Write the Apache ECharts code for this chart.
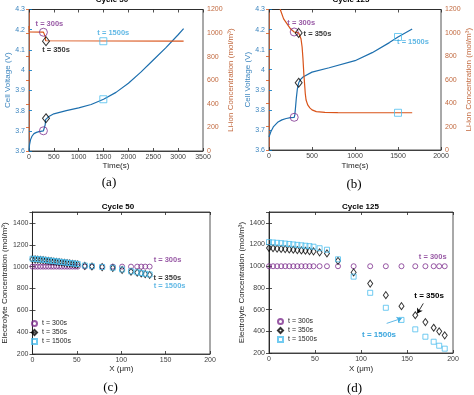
<!DOCTYPE html>
<html><head><meta charset="utf-8">
<script src="https://cdn.jsdelivr.net/npm/echarts@6/dist/echarts.min.js"></script>
<style>html,body{margin:0;padding:0;background:#fff}#c{width:474px;height:395px}</style>
</head><body><div id="c"></div>
<script>
// ---------- DATA ----------
// (a) Cycle 50 : [time s, value]
const aVoltage = [[0,3.600],[10,3.630],[30,3.655],[60,3.673],[100,3.686],[150,3.692],[200,3.696],[290,3.700],[318,3.704],[326,3.730],[334,3.755],[342,3.762],[400,3.771],[500,3.784],[750,3.800],[1000,3.813],[1250,3.830],[1500,3.856],[1750,3.890],[2000,3.935],[2250,3.990],[2500,4.050],[2750,4.110],[3000,4.175],[3110,4.205]];
const aConc = [[0,1060],[5,1010],[290,1008],[320,1005],[328,970],[334,935],[345,931],[3110,931]];
const aMarkTime = [290, 342, 1495];
const aMarkVolt = [3.700, 3.762, 3.856];
const aMarkConc = [1007, 931, 931];
// (b) Cycle 125
const bVoltage = [[0,3.665],[20,3.690],[50,3.715],[100,3.738],[150,3.750],[200,3.757],[250,3.761],[293,3.763],[300,3.775],[308,3.810],[318,3.860],[330,3.905],[345,3.935],[370,3.953],[400,3.965],[500,3.988],[700,4.010],[1000,4.045],[1200,4.085],[1400,4.135],[1500,4.163],[1665,4.203]];
const bConc = [[60,1600],[100,1330],[131,1200],[170,1120],[208,1080],[250,1035],[293,1008],[345,1000],[362,985],[372,950],[385,880],[395,780],[405,650],[413,572],[422,480],[431,427],[450,385],[475,360],[500,343],[550,328],[650,321],[800,319],[1665,318]];
const bMarkTime = [293, 345, 1500];
const bMarkVolt = [3.763, 3.935, 4.163];
const bMarkConc = [1008, 1000, 318];
const markNames = ['t = 300s', 't = 350s', 't = 1500s'];
// (c) Cycle 50 electrolyte concentration vs X (um)
const cX = [0,3,6,9,12,15,18,21,24,27,30,33,36,39,42,45,48,51,59,67,78.5,90.5,101,111,118,122.5,127,132];
const c300 = [1000,1000,1000,1000,1000,1000,1000,1000,1000,1000,1000,1000,1000,1000,1000,1000,1000,1000,1000,1000,1000,1000,1000,1000,1000,1000,1000,1000];
const c350 = [1068,1066,1064,1062,1059,1056,1053,1050,1047,1044,1041,1038,1035,1032,1029,1026,1023,1020,1007,1001,995,987,970,953,945,938,931,925];
const c1500 = [1072,1070,1068,1066,1063,1060,1057,1054,1051,1048,1045,1042,1039,1036,1033,1030,1027,1024,1010,1003,997,990,974,957,948,941,934,928];
// (d) Cycle 125
const dX = [0,4.4,8.8,13.2,17.6,22,26.4,30.8,35.2,39.6,44,48.4,55,63,75,92,110,127,144,159,170,179,185,191];
const d300 = [1000,1000,1000,1000,1000,1000,1000,1000,1000,1000,1000,1000,1000,1000,1000,1000,1000,1000,1000,1000,1000,1000,1000,1000];
const d350 = [1168,1166,1163,1160,1158,1155,1152,1149,1146,1143,1140,1137,1128,1118,1050,943,840,733,632,548,485,433,400,363];
const d1500 = [1222,1219,1216,1213,1209,1205,1201,1197,1193,1189,1185,1180,1166,1152,1064,904,755,617,505,418,350,304,267,240];
// annotation anchors (data coords) for panel (d)
const dNote350 = {at:[174,725], from:[167.7,657], to:[161.2,565]};
const dNote1500 = {at:[119.6,366], from:[127.9,473], to:[144.2,519]};

// ---------- STYLE ----------
const FONT = '"Liberation Sans", Arial, sans-serif';
const PURPLE = '#7E2F8E', LBLUE = '#4DBEEE', LBLUE_T = '#3AA6DE', BLUE = '#0072BD', ORANGE = '#D95319', DARK = '#262626', GREY = '#404040';
const sym = ['circle', 'diamond', 'rect'];
const symCol = [PURPLE, '#000000', LBLUE];
const txtCol = [PURPLE, '#000000', LBLUE_T];

const pair = (xs, ys) => xs.map((x, i) => [x, ys[i]]);
const plainFmt = v => String(Math.round(v * 1000) / 1000);
const voltFmt = v => String(Math.round(v * 10) / 10);
const concFmt = v => (v > 1450 ? '' : String(Math.round(v)));

function xAx(grid, min, max, interval, name, gap, opts = {}) {
  return Object.assign({
    type: 'value', gridIndex: grid, min, max, interval, position: 'bottom',
    axisLine: {show: true, lineStyle: {color: DARK, width: 0.8}},
    axisTick: {show: true, inside: true, length: 3, lineStyle: {color: DARK, width: 0.8}},
    axisLabel: {fontSize: 7, margin: 3, color: GREY, fontFamily: FONT, formatter: plainFmt},
    splitLine: {show: false},
    name, nameLocation: 'middle', nameGap: gap,
    nameTextStyle: {fontSize: 8, color: DARK, fontFamily: FONT}
  }, opts);
}
function yAx(grid, min, max, interval, name, gap, color, labelColor, pos, fmt, opts = {}) {
  return Object.assign({
    type: 'value', gridIndex: grid, min, max, interval, position: pos,
    axisLine: {show: true, lineStyle: {color, width: 0.8}},
    axisTick: {show: true, inside: true, length: 3, lineStyle: {color, width: 0.8}},
    axisLabel: {fontSize: 7, margin: 4, color: labelColor, fontFamily: FONT, formatter: fmt},
    splitLine: {show: false},
    name, nameLocation: 'middle', nameGap: gap,
    nameTextStyle: {fontSize: 8, color: labelColor, fontFamily: FONT}
  }, opts);
}
function mirrorX(grid, min, max, interval) {
  return {type: 'value', gridIndex: grid, min, max, interval, position: 'top',
    axisLine: {show: true, lineStyle: {color: DARK, width: 0.8}},
    axisTick: {show: true, inside: true, length: 3, lineStyle: {color: DARK, width: 0.8}},
    axisLabel: {show: false}, splitLine: {show: false}};
}
function mirrorY(grid, min, max, interval) {
  return {type: 'value', gridIndex: grid, min, max, interval, position: 'right',
    axisLine: {show: true, lineStyle: {color: DARK, width: 0.8}},
    axisTick: {show: true, inside: true, length: 3, lineStyle: {color: DARK, width: 0.8}},
    axisLabel: {show: false}, splitLine: {show: false}};
}

const grids = [
  {left: 29, top: 9.5, width: 174, height: 141.5},
  {left: 269, top: 9.5, width: 173, height: 140.5},
  {left: 29, top: 212, width: 181, height: 142},
  {left: 269, top: 212, width: 184, height: 141}
].map(g => Object.assign(g, {show: true, borderColor: DARK, borderWidth: 0.8, backgroundColor: 'transparent', containLabel: false}));

const xAxis = [
  xAx(0, 0, 3500, 500, 'Time(s)', 11),
  xAx(1, 0, 2000, 500, 'Time(s)', 12),
  xAx(2, 0, 200, 50, 'X (\u03bcm)', 10),
  xAx(3, 0, 200, 50, 'X (\u03bcm)', 12),
  mirrorX(0, 0, 3500, 500), mirrorX(1, 0, 2000, 500), mirrorX(2, 0, 200, 50), mirrorX(3, 0, 200, 50)
];
const yAxis = [
  yAx(0, 3.6, 4.3, 0.1, 'Cell Voltage (V)', 13, BLUE, '#3A84BE', 'left', voltFmt),
  yAx(0, 0, 1200, 200, 'Li-ion Concentration (mol/m\u00b3)', 23, ORANGE, '#C26A40', 'right', plainFmt),
  yAx(1, 3.6, 4.3, 0.1, 'Cell Voltage (V)', 13, BLUE, '#3A84BE', 'left', voltFmt),
  yAx(1, 0, 1200, 200, 'Li-ion Concentration (mol/m\u00b3)', 24, ORANGE, '#C26A40', 'right', plainFmt),
  yAx(2, 200, 1500, 200, 'Electrolyte Concentration (mol/m\u00b3)', 20, DARK, GREY, 'left', concFmt, {nameTextStyle: {fontSize: 8, color: DARK, fontFamily: FONT}}),
  yAx(3, 200, 1500, 200, 'Electrolyte Concentration (mol/m\u00b3)', 19.5, DARK, GREY, 'left', concFmt, {nameTextStyle: {fontSize: 8, color: DARK, fontFamily: FONT}}),
  mirrorY(2, 200, 1500, 200), mirrorY(3, 200, 1500, 200)
];
yAxis[4].axisLabel.showMaxLabel = false;
yAxis[5].axisLabel.showMaxLabel = false;

const lbl = (i, extra) => Object.assign({show: true, formatter: markNames[i], color: txtCol[i], fontSize: 7.5, fontWeight: 'bold', fontFamily: FONT}, extra);
const series = [];
function line(xi, yi, data, color) {
  series.push({type: 'line', xAxisIndex: xi, yAxisIndex: yi, data, showSymbol: false, symbol: 'none', clip: true,
    lineStyle: {color, width: 1.2}, itemStyle: {color}, z: 2, silent: true});
}
function marker(name, xi, yi, data, i, size, label) {
  const d = data.map((p, k) => (label && k === data.length - 1) ? {value: p, label} : p);
  series.push({type: 'scatter', name, xAxisIndex: xi, yAxisIndex: yi, data: d, symbol: sym[i],
    symbolSize: size[i], itemStyle: {color: 'rgba(255,255,255,0)', borderColor: symCol[i], borderWidth: 1}, z: 5});
}
// (a)
line(0, 0, aVoltage, '#1D6FAE');
line(0, 1, aConc, ORANGE);
const sizeAB = [8, [7, 9], 7];
const aLbl = [lbl(0, {position: 'top', offset: [6, 1], distance: 1}), lbl(1, {position: 'bottom', offset: [10, -1], distance: 1}), lbl(2, {position: 'top', offset: [10, 1], distance: 1})];
for (let i = 0; i < 3; i++) {
  marker('a' + i, 0, 0, [[aMarkTime[i], aMarkVolt[i]]], i, sizeAB, null);
  marker('a' + i, 0, 1, [[aMarkTime[i], aMarkConc[i]]], i, sizeAB, aLbl[i]);
}
// (b)
line(1, 2, bVoltage, '#1D6FAE');
line(1, 3, bConc, ORANGE);
const bLblConc = [lbl(0, {position: 'top', offset: [7, 0], distance: 1}), lbl(1, {position: 'right', offset: [0, 1], distance: 1}), null];
const bLblVolt = [null, null, lbl(2, {position: 'bottom', offset: [15, -4], distance: 1})];
for (let i = 0; i < 3; i++) {
  marker('b' + i, 1, 2, [[bMarkTime[i], bMarkVolt[i]]], i, sizeAB, bLblVolt[i]);
  marker('b' + i, 1, 3, [[bMarkTime[i], bMarkConc[i]]], i, sizeAB, bLblConc[i]);
}
// (c)
const sizeCD = [5, [5, 7], 5];
marker(markNames[0], 2, 4, pair(cX, c300), 0, sizeCD, lbl(0, {position: 'right', offset: [0, -7], distance: 1}));
marker(markNames[1], 2, 4, pair(cX, c350), 1, sizeCD, lbl(1, {position: 'right', offset: [0, 3], distance: 1}));
marker(markNames[2], 2, 4, pair(cX, c1500), 2, sizeCD, lbl(2, {position: 'right', offset: [0, 11], distance: 1}));
// (d)
marker(markNames[0], 3, 5, pair(dX, d300), 0, sizeCD, lbl(0, {position: 'top', offset: [-12, 0], distance: 2}));
marker(markNames[1], 3, 5, pair(dX, d350), 1, sizeCD, null);
marker(markNames[2], 3, 5, pair(dX, d1500), 2, sizeCD, null);
const note = (n, i) => ({
  markPoint: {symbol: 'circle', symbolSize: 0, silent: true, animation: false,
    data: [{coord: n.at, label: lbl(i, {position: 'inside', fontSize: 8})}]},
  markLine: {silent: true, animation: false, symbol: ['none', 'arrow'], symbolSize: 5,
    lineStyle: {color: i === 1 ? '#000' : LBLUE_T, width: 0.8, type: 'solid'}, label: {show: false},
    data: [[{coord: n.from}, {coord: n.to}]]}
});
Object.assign(series[series.length - 2], note(dNote350, 1));
Object.assign(series[series.length - 1], note(dNote1500, 2));

const legendBase = {orient: 'vertical', itemWidth: 5, itemHeight: 5, itemGap: 2, padding: 0, selectedMode: false,
  textStyle: {fontSize: 7, color: DARK, fontFamily: FONT},
  data: markNames.map(n => ({name: n}))};

const T = (text, x, y, font, color) => ({type: 'text', x, y, silent: true,
  style: {text, font, fill: color || '#000', textAlign: 'center', textVerticalAlign: 'middle', align: 'center', verticalAlign: 'middle'}});
const titleFont = 'bold 8px ' + FONT;
const capFont = '13px "Liberation Serif", "DejaVu Serif", serif';

const option = {
  animation: false,
  backgroundColor: '#fff',
  grid: grids, xAxis, yAxis, series,
  legend: [
    Object.assign({left: 31, top: 320}, legendBase),
    Object.assign({left: 277, top: 318}, legendBase)
  ],
  graphic: [
    T('Cycle 50', 112, 0, titleFont), T('Cycle 125', 351, 0, titleFont),
    T('Cycle 50', 118, 206.5, titleFont), T('Cycle 125', 360.5, 206.5, titleFont),
    T('(a)', 109, 183, capFont), T('(b)', 354, 185, capFont),
    T('(c)', 110.5, 388, capFont), T('(d)', 354.5, 389, capFont)
  ]
};
const chart = echarts.init(document.getElementById('c'), null, {renderer: 'canvas'});
chart.setOption(option);
</script></body></html>
